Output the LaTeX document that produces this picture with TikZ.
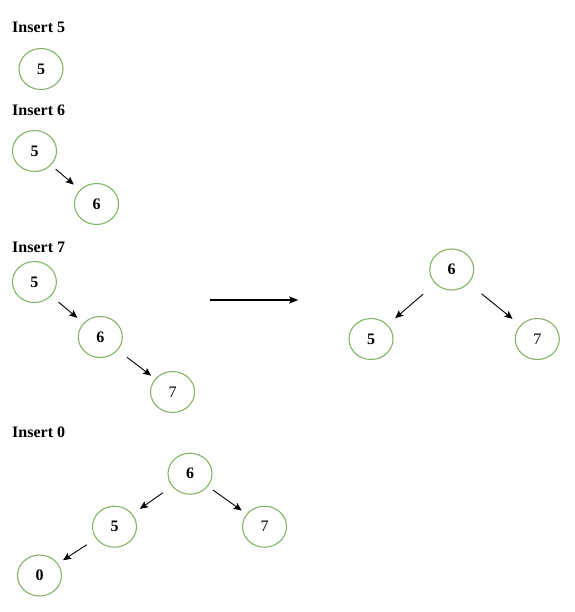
\documentclass[tikz,border=0pt]{standalone}
\usepackage{fontspec}
\setmainfont{Liberation Serif}
\usetikzlibrary{shapes.geometric,arrows.meta}
\definecolor{nodegreen}{HTML}{82B366}
\begin{document}
\begin{tikzpicture}[x=1pt,y=-1pt,
  every node/.style={font=\fontsize{16}{19}\selectfont\bfseries},
  tnode/.style={ellipse,draw=nodegreen,line width=1.1pt,minimum width=44pt,minimum height=41pt,inner sep=0pt},
  lbl/.style={anchor=base west,inner sep=0pt},
  plain/.style={font=\fontsize{16}{19}\selectfont},
  conn/.style={-{Stealth[length=8pt,width=7pt,inset=1.5pt]},line width=0.9pt}]
\path[use as bounding box] (0,0) rectangle (574,612);
% Insert 5
\node[lbl] (l5) at (12,33) {Insert 5};
\node[tnode] (a5) at (41,69) {5};
% Insert 6
\node[lbl] (l6) at (12,116) {Insert 6};
\node[tnode] (b5) at (34.5,151) {5};
\node[tnode] (b6) at (96.5,204) {6};
\draw[conn,shorten <=6pt,shorten >=8pt] (b5) -- (b6);
% Insert 7
\node[lbl] (l7) at (12,252) {Insert 7};
\node[tnode] (c5) at (34.4,282) {5};
\node[tnode] (c6) at (100.3,337) {6};
\node[tnode,plain] (c7) at (172.6,392) {7};
\draw[conn,shorten <=9.5pt,shorten >=8pt] (c5) -- (c6);
\draw[conn,shorten <=11.5pt,shorten >=5pt] (c6) -- (c7);
% big arrow
\coordinate (ba) at (209.7,300);
\coordinate (bb) at (298.3,300);
\draw[-{Stealth[length=9pt,width=7pt,inset=1.5pt]},line width=1.8pt] (ba) -- (bb);
% rotated tree
\node[tnode] (d6) at (451.7,269.5) {6};
\node[tnode] (d5) at (371,339) {5};
\node[tnode,plain] (d7) at (537.3,339) {7};
\draw[conn,shorten <=16pt,shorten >=10pt] (d6) -- (d5);
\draw[conn,shorten <=16.5pt,shorten >=10pt] (d6) -- (d7);
% Insert 0
\node[lbl] (l0) at (12,437.7) {Insert 0};
\node[tnode] (e6) at (190,473.7) {6};
\node[tnode] (e5) at (114.5,526.7) {5};
\node[tnode,plain] (e7) at (264.5,526.7) {7};
\node[tnode] (e0) at (39.5,575.5) {0};
\draw[conn,shorten <=11pt,shorten >=9pt] (e6) -- (e5);
\draw[conn,shorten <=6pt,shorten >=6pt] (e6) -- (e7);
\draw[conn,shorten <=11pt,shorten >=6pt] (e5) -- (e0);
\end{tikzpicture}
\end{document}
